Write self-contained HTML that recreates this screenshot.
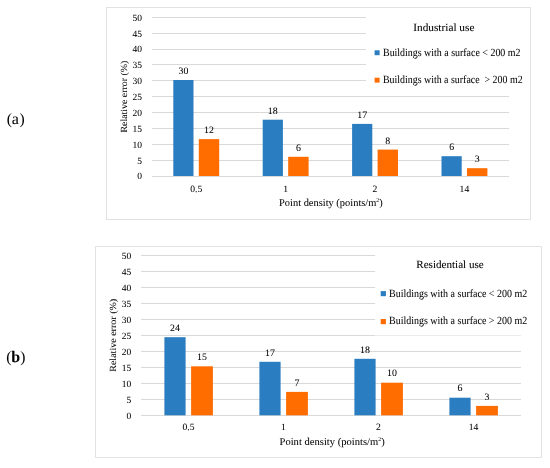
<!DOCTYPE html>
<html><head><meta charset="utf-8"><style>
html,body{margin:0;padding:0;background:#fff;width:550px;height:468px;overflow:hidden;font-family:"Liberation Serif",serif;}
svg{display:block;will-change:transform;}
text{stroke:#000;stroke-width:0.04px;}
text.n{stroke-width:0.04px;}
text.t{stroke-width:0.08px;}
</style></head><body>
<svg text-rendering="geometricPrecision" width="550" height="468" viewBox="0 0 550 468" font-family='"Liberation Serif", serif' fill="#000">
<rect width="550" height="468" fill="#fff"/>
<rect x="106.5" y="7.5" width="424" height="212" fill="#fff" stroke="#e2e2e2" stroke-width="1"/>
<line x1="152" y1="176.50" x2="509" y2="176.50" stroke="#d9d9d9" stroke-width="1"/>
<text class="n" x="142" y="179.40" font-size="9.5" text-anchor="end">0</text>
<line x1="152" y1="160.50" x2="509" y2="160.50" stroke="#d9d9d9" stroke-width="1"/>
<text class="n" x="142" y="163.53" font-size="9.5" text-anchor="end">5</text>
<line x1="152" y1="144.50" x2="509" y2="144.50" stroke="#d9d9d9" stroke-width="1"/>
<text class="n" x="142" y="147.66" font-size="9.5" text-anchor="end">10</text>
<line x1="152" y1="128.50" x2="509" y2="128.50" stroke="#d9d9d9" stroke-width="1"/>
<text class="n" x="142" y="131.79" font-size="9.5" text-anchor="end">15</text>
<line x1="152" y1="112.50" x2="509" y2="112.50" stroke="#d9d9d9" stroke-width="1"/>
<text class="n" x="142" y="115.92" font-size="9.5" text-anchor="end">20</text>
<line x1="152" y1="96.50" x2="509" y2="96.50" stroke="#d9d9d9" stroke-width="1"/>
<text class="n" x="142" y="100.05" font-size="9.5" text-anchor="end">25</text>
<line x1="152" y1="80.50" x2="366" y2="80.50" stroke="#d9d9d9" stroke-width="1"/>
<text class="n" x="142" y="84.18" font-size="9.5" text-anchor="end">30</text>
<line x1="152" y1="64.50" x2="366" y2="64.50" stroke="#d9d9d9" stroke-width="1"/>
<text class="n" x="142" y="68.31" font-size="9.5" text-anchor="end">35</text>
<line x1="152" y1="49.50" x2="366" y2="49.50" stroke="#d9d9d9" stroke-width="1"/>
<text class="n" x="142" y="52.44" font-size="9.5" text-anchor="end">40</text>
<line x1="152" y1="33.50" x2="366" y2="33.50" stroke="#d9d9d9" stroke-width="1"/>
<text class="n" x="142" y="36.57" font-size="9.5" text-anchor="end">45</text>
<line x1="152" y1="17.50" x2="366" y2="17.50" stroke="#d9d9d9" stroke-width="1"/>
<text class="n" x="142" y="20.70" font-size="9.5" text-anchor="end">50</text>
<rect x="173.29999999999998" y="80.0" width="20.20" height="96.00" fill="#2a7dc0"/>
<rect x="198.79999999999998" y="139.1" width="20.40" height="36.90" fill="#ff6d00"/>
<text class="n" x="183.40" y="74.00" font-size="9.9" text-anchor="middle">30</text>
<text class="n" x="209.00" y="133.10" font-size="9.9" text-anchor="middle">12</text>
<text class="n" x="196.20" y="191.5" font-size="9.6" text-anchor="middle">0.5</text>
<rect x="262.70000000000005" y="119.7" width="20.20" height="56.30" fill="#2a7dc0"/>
<rect x="288.20000000000005" y="156.8" width="20.40" height="19.20" fill="#ff6d00"/>
<text class="n" x="272.80" y="113.70" font-size="9.9" text-anchor="middle">18</text>
<text class="n" x="298.40" y="150.80" font-size="9.9" text-anchor="middle">6</text>
<text class="n" x="285.60" y="191.5" font-size="9.6" text-anchor="middle">1</text>
<rect x="352.1" y="123.9" width="20.20" height="52.10" fill="#2a7dc0"/>
<rect x="377.6" y="149.6" width="20.40" height="26.40" fill="#ff6d00"/>
<text class="n" x="362.20" y="117.90" font-size="9.9" text-anchor="middle">17</text>
<text class="n" x="387.80" y="143.60" font-size="9.9" text-anchor="middle">8</text>
<text class="n" x="375.00" y="191.5" font-size="9.6" text-anchor="middle">2</text>
<rect x="441.5" y="156.2" width="20.20" height="19.80" fill="#2a7dc0"/>
<rect x="467.0" y="168.2" width="20.40" height="7.80" fill="#ff6d00"/>
<text class="n" x="451.60" y="150.20" font-size="9.9" text-anchor="middle">6</text>
<text class="n" x="477.20" y="162.20" font-size="9.9" text-anchor="middle">3</text>
<text class="n" x="464.40" y="191.5" font-size="9.6" text-anchor="middle">14</text>
<text x="279" y="206" font-size="10.3" textLength="103.8" lengthAdjust="spacingAndGlyphs">Point density (points/m<tspan font-size="5.8" dy="-4">2</tspan><tspan dy="4">)</tspan></text>
<text transform="translate(126.6,132.6) rotate(-90)" x="0" y="0" font-size="9.4" textLength="72.0" lengthAdjust="spacingAndGlyphs">Relative error (%)</text>
<rect x="366" y="10" width="160" height="80" fill="#fff"/>
<text class="t" x="413.3" y="31" font-size="11" textLength="61.099999999999966" lengthAdjust="spacingAndGlyphs">Industrial use</text>
<rect x="374.6" y="50.3" width="5.0" height="4.9" fill="#2a7dc0"/>
<text x="383" y="55.6" font-size="11" textLength="137.5" lengthAdjust="spacingAndGlyphs" xml:space="preserve">Buildings with a surface &lt; 200 m2</text>
<rect x="374.6" y="77.7" width="5.0" height="4.9" fill="#ff6d00"/>
<text x="383" y="82.9" font-size="11" textLength="139.60000000000002" lengthAdjust="spacingAndGlyphs" xml:space="preserve">Buildings with a surface  &gt; 200 m2</text>
<rect x="95.5" y="246.5" width="446" height="211" fill="#fff" stroke="#e2e2e2" stroke-width="1"/>
<line x1="141" y1="415.50" x2="521" y2="415.50" stroke="#d9d9d9" stroke-width="1"/>
<text class="n" x="131.3" y="418.70" font-size="9.5" text-anchor="end">0</text>
<line x1="141" y1="399.50" x2="521" y2="399.50" stroke="#d9d9d9" stroke-width="1"/>
<text class="n" x="131.3" y="402.72" font-size="9.5" text-anchor="end">5</text>
<line x1="141" y1="383.50" x2="521" y2="383.50" stroke="#d9d9d9" stroke-width="1"/>
<text class="n" x="131.3" y="386.74" font-size="9.5" text-anchor="end">10</text>
<line x1="141" y1="367.50" x2="521" y2="367.50" stroke="#d9d9d9" stroke-width="1"/>
<text class="n" x="131.3" y="370.76" font-size="9.5" text-anchor="end">15</text>
<line x1="141" y1="351.50" x2="521" y2="351.50" stroke="#d9d9d9" stroke-width="1"/>
<text class="n" x="131.3" y="354.78" font-size="9.5" text-anchor="end">20</text>
<line x1="141" y1="335.50" x2="375.3" y2="335.50" stroke="#d9d9d9" stroke-width="1"/>
<line x1="375.3" y1="335.50" x2="521" y2="335.50" stroke="#ececec" stroke-width="1"/>
<text class="n" x="131.3" y="338.80" font-size="9.5" text-anchor="end">25</text>
<line x1="141" y1="319.50" x2="375.3" y2="319.50" stroke="#d9d9d9" stroke-width="1"/>
<text class="n" x="131.3" y="322.82" font-size="9.5" text-anchor="end">30</text>
<line x1="141" y1="303.50" x2="375.3" y2="303.50" stroke="#d9d9d9" stroke-width="1"/>
<text class="n" x="131.3" y="306.84" font-size="9.5" text-anchor="end">35</text>
<line x1="141" y1="287.50" x2="375.3" y2="287.50" stroke="#d9d9d9" stroke-width="1"/>
<text class="n" x="131.3" y="290.86" font-size="9.5" text-anchor="end">40</text>
<line x1="141" y1="271.50" x2="375.3" y2="271.50" stroke="#d9d9d9" stroke-width="1"/>
<text class="n" x="131.3" y="274.88" font-size="9.5" text-anchor="end">45</text>
<line x1="141" y1="255.50" x2="375.3" y2="255.50" stroke="#d9d9d9" stroke-width="1"/>
<text class="n" x="131.3" y="258.90" font-size="9.5" text-anchor="end">50</text>
<rect x="164.4" y="337.2" width="21.20" height="78.10" fill="#2a7dc0"/>
<rect x="191.1" y="366.3" width="21.80" height="49.00" fill="#ff6d00"/>
<text class="n" x="175.00" y="330.90" font-size="9.9" text-anchor="middle">24</text>
<text class="n" x="202.00" y="360.00" font-size="9.9" text-anchor="middle">15</text>
<text class="n" x="188.50" y="430" font-size="9.6" text-anchor="middle">0.5</text>
<rect x="259.4" y="361.8" width="21.20" height="53.50" fill="#2a7dc0"/>
<rect x="286.1" y="391.9" width="21.80" height="23.40" fill="#ff6d00"/>
<text class="n" x="270.00" y="355.50" font-size="9.9" text-anchor="middle">17</text>
<text class="n" x="297.00" y="385.60" font-size="9.9" text-anchor="middle">7</text>
<text class="n" x="283.50" y="430" font-size="9.6" text-anchor="middle">1</text>
<rect x="354.4" y="358.8" width="21.20" height="56.50" fill="#2a7dc0"/>
<rect x="381.1" y="382.7" width="21.80" height="32.60" fill="#ff6d00"/>
<text class="n" x="365.00" y="352.50" font-size="9.9" text-anchor="middle">18</text>
<text class="n" x="392.00" y="376.40" font-size="9.9" text-anchor="middle">10</text>
<text class="n" x="378.50" y="430" font-size="9.6" text-anchor="middle">2</text>
<rect x="449.4" y="397.7" width="21.20" height="17.60" fill="#2a7dc0"/>
<rect x="476.1" y="405.9" width="21.80" height="9.40" fill="#ff6d00"/>
<text class="n" x="460.00" y="391.40" font-size="9.9" text-anchor="middle">6</text>
<text class="n" x="487.00" y="399.60" font-size="9.9" text-anchor="middle">3</text>
<text class="n" x="473.50" y="430" font-size="9.6" text-anchor="middle">14</text>
<text x="279.5" y="445.4" font-size="10.3" textLength="105.3" lengthAdjust="spacingAndGlyphs">Point density (points/m<tspan font-size="5.8" dy="-4">2</tspan><tspan dy="4">)</tspan></text>
<text transform="translate(115.6,371.8) rotate(-90)" x="0" y="0" font-size="9.4" textLength="73.0" lengthAdjust="spacingAndGlyphs">Relative error (%)</text>
<rect x="375.3" y="249" width="160" height="80" fill="#fff"/>
<text class="t" x="416.3" y="267.6" font-size="11" textLength="67.39999999999998" lengthAdjust="spacingAndGlyphs">Residential use</text>
<rect x="380.7" y="291.1" width="5.2" height="5.1" fill="#2a7dc0"/>
<text x="389" y="296.5" font-size="11" textLength="138.20000000000005" lengthAdjust="spacingAndGlyphs" xml:space="preserve">Buildings with a surface &lt; 200 m2</text>
<rect x="380.7" y="319.0" width="5.2" height="5.2" fill="#ff6d00"/>
<text x="389" y="324.4" font-size="11" textLength="138.20000000000005" lengthAdjust="spacingAndGlyphs" xml:space="preserve">Buildings with a surface &gt; 200 m2</text>
<g font-size="15.6">
<text x="6.81" y="123.6">(</text>
<text x="11.64" y="123.6" font-size="16">a</text>
<text x="19.50" y="123.6">)</text>
<text x="6.36" y="361.9">(</text>
<text x="11.30" y="361.9" font-size="16" font-weight="bold" textLength="8.85" lengthAdjust="spacingAndGlyphs">b</text>
<text x="20.20" y="361.9">)</text>
</g>
</svg>
</body></html>
